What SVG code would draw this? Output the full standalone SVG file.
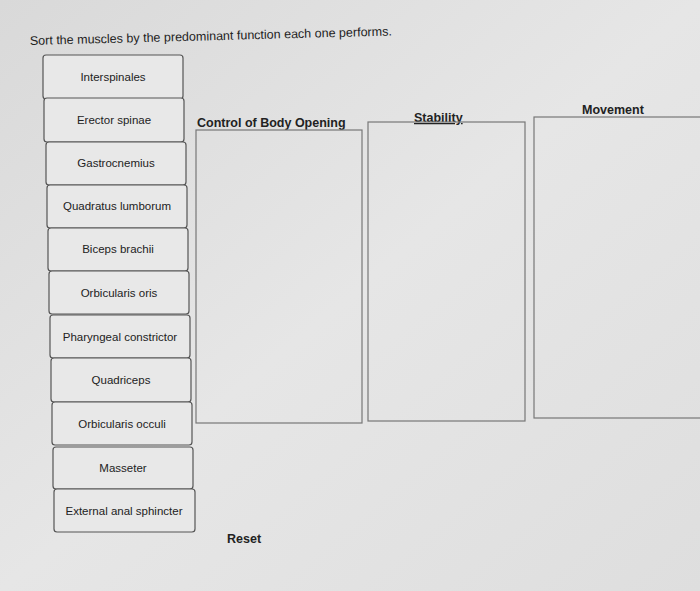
<svg xmlns="http://www.w3.org/2000/svg" width="700" height="591" viewBox="0 0 700 591">
<defs>
<linearGradient id="bg" x1="0" y1="0" x2="1" y2="1">
<stop offset="0" stop-color="#d9d9d9"/><stop offset="0.5" stop-color="#e6e6e6"/><stop offset="1" stop-color="#dedede"/>
</linearGradient>
</defs>
<style>
.item rect{fill:#e8e8e8;stroke:#555;stroke-width:1.2}
.item text{font-family:"Liberation Sans",Arial,sans-serif;font-size:11.5px;fill:#222;text-anchor:middle}
.zone rect{fill:none;stroke:#777;stroke-width:1.2}
.head{font-family:"Liberation Sans",Arial,sans-serif;font-size:12.5px;font-weight:bold;fill:#222}
</style>
<rect width="700" height="591" fill="url(#bg)"/>
<text x="30" y="45" transform="rotate(-1.5 30 45)" font-family="Liberation Sans,Arial,sans-serif" font-size="12.5" fill="#222">Sort the muscles by the predominant function each one performs.</text>
<g id="n1" class="item"><rect x="43" y="55" width="140" height="44" rx="3"/><text x="113" y="81">Interspinales</text></g>
<g id="n2" class="item"><rect x="44" y="98" width="140" height="44" rx="3"/><text x="114" y="124">Erector spinae</text></g>
<g id="n3" class="item"><rect x="46" y="142" width="140" height="43" rx="3"/><text x="116" y="167">Gastrocnemius</text></g>
<g id="n4" class="item"><rect x="47" y="185" width="140" height="43" rx="3"/><text x="117" y="210">Quadratus lumborum</text></g>
<g id="n5" class="item"><rect x="48" y="228" width="140" height="43" rx="3"/><text x="118" y="253">Biceps brachii</text></g>
<g id="n6" class="item"><rect x="49" y="271" width="140" height="43" rx="3"/><text x="119" y="297">Orbicularis oris</text></g>
<g id="n7" class="item"><rect x="50" y="315" width="140" height="43" rx="3"/><text x="120" y="341">Pharyngeal constrictor</text></g>
<g id="n8" class="item"><rect x="51" y="358" width="140" height="44" rx="3"/><text x="121" y="384">Quadriceps</text></g>
<g id="n9" class="item"><rect x="52" y="402" width="140" height="43" rx="3"/><text x="122" y="428">Orbicularis occuli</text></g>
<g id="n10" class="item"><rect x="53" y="447" width="140" height="42" rx="3"/><text x="123" y="472">Masseter</text></g>
<g id="n11" class="item"><rect x="54" y="489" width="141" height="43" rx="3"/><text x="124" y="515">External anal sphincter</text></g>
<g id="z1" class="zone"><text class="head" x="197" y="127">Control of Body Opening</text><rect x="196" y="130" width="166" height="293"/></g>
<g id="z2" class="zone"><text class="head" x="414" y="122" text-decoration="underline">Stability</text><rect x="368" y="122" width="157" height="299"/></g>
<g id="z3" class="zone"><text class="head" x="582" y="114">Movement</text><rect x="534" y="117" width="170" height="301"/></g>
<g id="connectors"/>
<text class="head" x="227" y="543" font-size="12">Reset</text>
</svg>
